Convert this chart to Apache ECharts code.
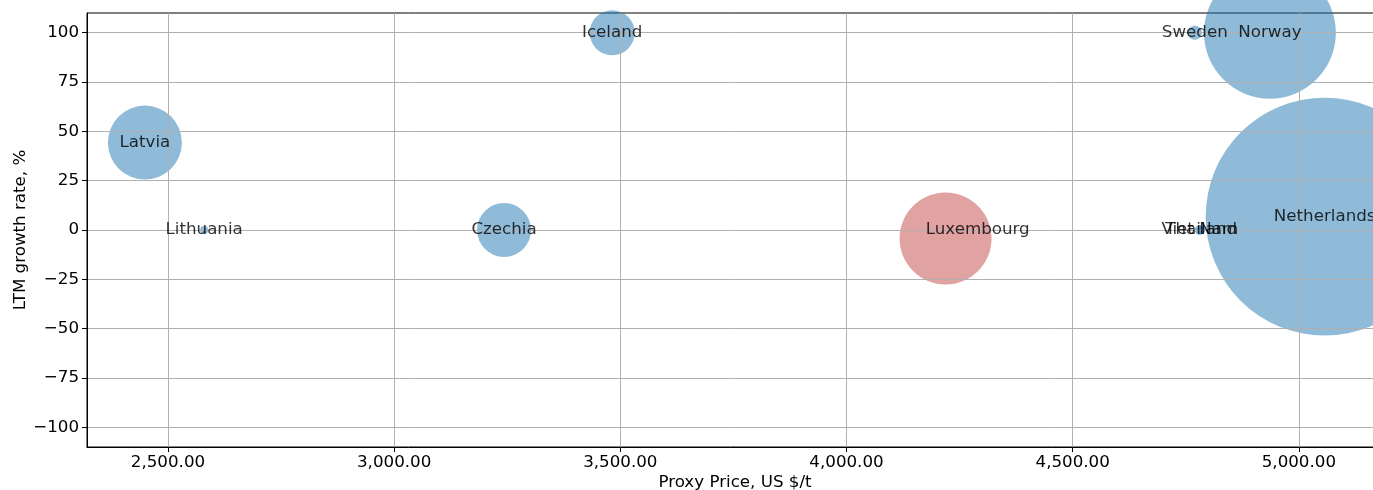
<!DOCTYPE html>
<html>
<head>
<meta charset="utf-8">
<script src="https://cdn.jsdelivr.net/npm/echarts@6/dist/echarts.min.js"></script>
<style>
  html, body { margin: 0; padding: 0; background: #fff; }
  #chart { width: 1373px; height: 490px; }
</style>
</head>
<body>
<div id="chart"></div>
<script>
// ---- data ----
const countries   = ['Latvia', 'Lithuania', 'Czechia', 'Iceland', 'Luxembourg', 'Sweden', 'Norway', 'Netherlands', 'Viet Nam', 'Thailand'];
const proxyPrice  = [2449, 2580, 3243, 3482, 4219, 4770, 4936, 5057, 4781, 4784];
const ltmGrowth   = [44.3, 0, 0, 100, -4.3, 100, 100, 6.8, 0, 0];
const volume      = [54.8, 0.64, 29.2, 20.3, 84.6, 1.96, 174, 566, 1.0, 0.64];
const highlighted = [false, false, false, false, true, false, false, false, false, false];
const labelPrice  = [2449, 2580, 3243, 3482, 4290, 4770, 4936, 5057, 4781, 4784];
const labelGrowth = [44.3, 0, 0, 100, 0, 100, 100, 6.8, 0, 0];
const xTicks = [2500, 3000, 3500, 4000, 4500, 5000];
const yTicks = [-100, -75, -50, -25, 0, 25, 50, 75, 100];
const xTitle = 'Proxy Price, US $/t';
const yTitle = 'LTM growth rate, %';

// ---- chart ----
const FONT = 'DejaVu Sans';
const FS = 16.7;
const chart = echarts.init(document.getElementById('chart'), null, { renderer: 'canvas' });

const bubbleData = countries.map((c, i) => ({
  name: c,
  value: [proxyPrice[i], ltmGrowth[i], volume[i]],
  itemStyle: highlighted[i]
    ? { color: '#c44646', opacity: 0.5 }
    : { color: '#1f77b4', opacity: 0.5 }
}));
const labelData = countries.map((c, i) => ({ name: c, value: [labelPrice[i], labelGrowth[i]] }));

const fmtX = v => Number(v).toLocaleString('en-US', { minimumFractionDigits: 2, maximumFractionDigits: 2 });
const fmtY = v => (v < 0 ? '\u2212' + Math.abs(v) : String(v));

chart.setOption({
  animation: false,
  backgroundColor: '#fff',
  grid: {
    left: 87, right: -10, top: 13, bottom: 43,
    show: true, borderColor: '#000', borderWidth: 1, backgroundColor: 'transparent',
    outerBoundsMode: 'none'
  },
  xAxis: {
    type: 'value', min: 2321, max: 5186, z: 3,
    name: xTitle, nameLocation: 'middle', nameGap: 27, nameMoveOverlap: false,
    nameTextStyle: { fontFamily: FONT, fontSize: FS, color: '#000' },
    axisLine: { show: true, onZero: false, lineStyle: { color: '#000', width: 1 } },
    axisTick: { show: true, length: 5, customValues: xTicks, lineStyle: { color: '#000' } },
    axisLabel: { customValues: xTicks, formatter: fmtX, margin: 7, fontFamily: FONT, fontSize: FS, color: '#000' },
    splitLine: { show: true, lineStyle: { color: '#b0b0b0', width: 1 } }
  },
  yAxis: {
    type: 'value', min: -110, max: 110, z: 3,
    name: yTitle, nameLocation: 'middle', nameGap: 58, nameRotate: 90, nameMoveOverlap: false,
    nameTextStyle: { fontFamily: FONT, fontSize: FS, color: '#000' },
    axisLine: { show: true, onZero: false, lineStyle: { color: '#000', width: 1 } },
    axisTick: { show: true, length: 5, customValues: yTicks, lineStyle: { color: '#000' } },
    axisLabel: { customValues: yTicks, formatter: fmtY, margin: 8, fontFamily: FONT, fontSize: FS, color: '#000' },
    splitLine: { show: true, lineStyle: { color: '#b0b0b0', width: 1 } }
  },
  series: [
    {
      type: 'scatter', z: 2,
      data: bubbleData,
      symbolSize: v => Math.sqrt(v[2]) * 10,
      emphasis: { disabled: true }
    },
    {
      type: 'scatter', z: 5,
      data: labelData,
      symbolSize: 0,
      silent: true,
      label: {
        show: true, position: 'inside', formatter: p => p.name,
        fontFamily: FONT, fontSize: FS, color: '#000', textBorderWidth: 0
      }
    }
  ]
});
</script>
</body>
</html>
